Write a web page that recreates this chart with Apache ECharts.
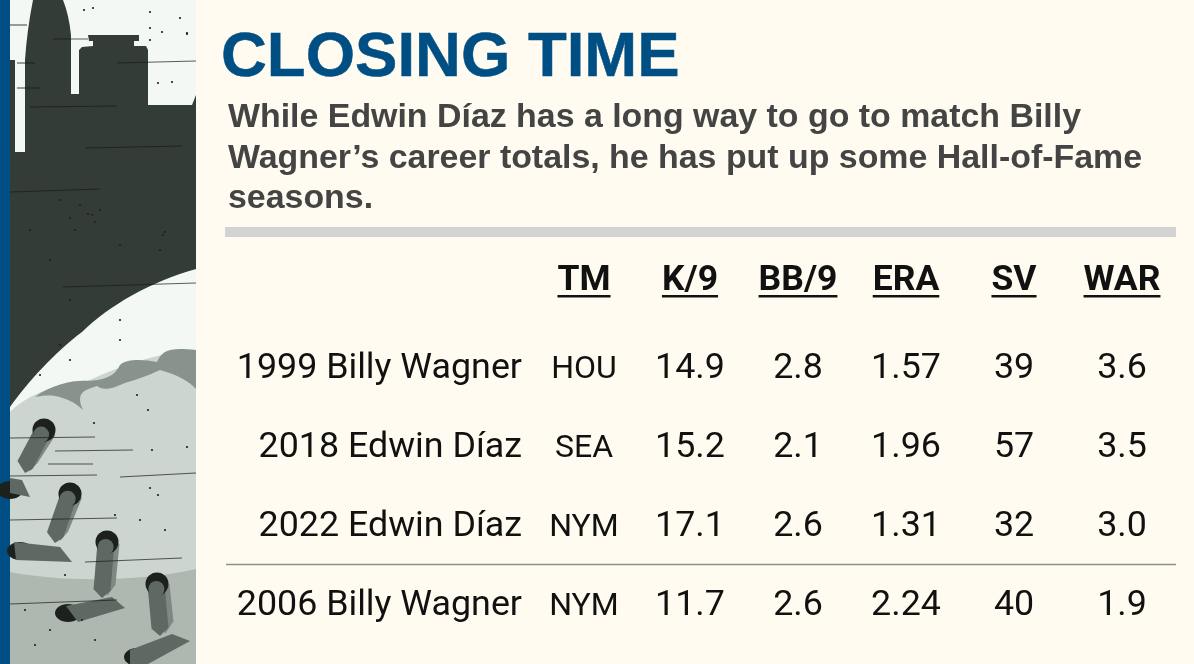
<!DOCTYPE html>
<html>
<head>
<meta charset="utf-8">
<style>
html, body { margin: 0; padding: 0; background: #fffbf0; }
#main { width: 1194px; height: 664px; }
</style>
<script src="https://cdn.jsdelivr.net/npm/echarts@6/dist/echarts.min.js"></script>
</head>
<body>
<div id="main"></div>
<script>
var titleText = 'CLOSING TIME';
var subtitleLines = [
    'While Edwin Díaz has a long way to go to match Billy',
    'Wagner’s career totals, he has put up some Hall-of-Fame',
    'seasons.'
];
var columns = ['TM', 'K/9', 'BB/9', 'ERA', 'SV', 'WAR'];
var players = ['1999 Billy Wagner', '2018 Edwin Díaz', '2022 Edwin Díaz', '2006 Billy Wagner'];
var teams = ['HOU', 'SEA', 'NYM', 'NYM'];
var k9 = ['14.9', '15.2', '17.1', '11.7'];
var bb9 = ['2.8', '2.1', '2.6', '2.6'];
var era = ['1.57', '1.96', '1.31', '2.24'];
var saves = ['39', '57', '32', '40'];
var war = ['3.6', '3.5', '3.0', '1.9'];

var statColumns = [teams, k9, bb9, era, saves, war];
var cells = [];
statColumns.forEach(function (col, c) {
    col.forEach(function (val, r) {
        cells.push([columns[c], players[r], val]);
    });
});

var INK = '#111111';
var PANEL = '#f3f8f4';
var DARK = '#333c36';
var FACE = '#ccd5cf';
var SHADE = '#aeb8b1';
var HAIR = '#89938d';
var LEG = '#5f6963';
var LEG_LIGHT = '#7f8983';

// illustration on the left, all hand traced
var pathCount = 0;
function pathEl(d, fill, z) {
    var name = 'artPath' + (pathCount++);
    echarts.graphic.registerShape(name, echarts.graphic.extendPath(d, {}));
    return { type: name, z: z, style: { fill: fill } };
}
function scratch(x1, y1, x2, y2, color) {
    return { type: 'line', z: 9, shape: { x1: x1, y1: y1, x2: x2, y2: y2 },
        style: { stroke: color || 'rgba(24,28,25,0.7)', lineWidth: 1.2 } };
}
function leg(x1, y1, x2, y2) {
    var dx = x2 - x1, dy = y2 - y1, len = Math.sqrt(dx * dx + dy * dy);
    var nx = -dy / len * 8.5, ny = dx / len * 8.5;
    return [
        { type: 'polygon', z: 6, shape: { points: [[x1 + nx + 5, y1 + ny], [x1 - nx + 5, y1 - ny], [x2 - nx + 5, y2 - ny - 6], [x2 + 5, y2 + 6]] },
            style: { fill: LEG_LIGHT } },
        { type: 'polygon', z: 7, shape: { points: [[x1 + nx, y1 + ny], [x1 - nx, y1 - ny], [x2 - nx, y2 - ny], [x2, y2 + 8], [x2 + nx, y2 + ny]] },
            style: { fill: LEG } },
        { type: 'circle', z: 7, shape: { cx: x1 + 1, cy: y1 - 1, r: 11.5 }, style: { fill: '#1d211e' } },
        { type: 'circle', z: 8, shape: { cx: x1 + dx / len * 4, cy: y1 + dy / len * 4, r: 8 }, style: { fill: LEG } }
    ];
}
function foot(points, capX, capY) {
    return [
        { type: 'polygon', z: 6, shape: { points: points }, style: { fill: LEG } },
        { type: 'ellipse', z: 5, shape: { cx: capX, cy: capY, rx: 13, ry: 9 }, style: { fill: '#1d211e' } }
    ];
}

var art = [
    { type: 'rect', z: 1, shape: { x: 0, y: 0, width: 10, height: 664 }, style: { fill: '#004f84' } },
    { type: 'rect', z: 1, shape: { x: 10, y: 0, width: 186, height: 664 }, style: { fill: PANEL } },
    // skyline and shadow
    pathEl('M33 0 L63 0 Q69 15 71 35 L71 94 L79 94 L79 50 L82 47 L93 46 L93 41 L89 41 L88 35 L139 35 L139 41 L134 41 L134 46 L146 46 L148 50 L148 105 L192 105 L196 95 L196 269 C150 282 110 305 82 332 C55 352 28 382 10 407 L10 60 L15 60 L15 152 L25 152 L25 60 Q27 30 33 0 Z', DARK, 2),
    // head and body
    pathEl('M10 412 C30 392 60 384 90 380 C120 366 160 352 196 350 L196 664 L10 664 Z', FACE, 3),
    pathEl('M10 572 C60 582 140 582 196 569 L196 664 L10 664 Z', SHADE, 4),
    pathEl('M35 397 C52 384 75 380 87 381 C105 380 115 376 120 365 C128 358 145 360 157 362 C162 350 170 347 196 350 L196 389 C190 382 178 375 160 370 C150 375 135 380 125 383 C115 387 105 392 97 386 C85 390 75 392 83 410 C75 402 65 398 55 396 C48 395 40 396 35 397 Z', HAIR, 5)
]
    .concat(leg(43, 431, 25, 465))
    .concat(foot([[10, 478], [22, 480], [30, 497], [10, 493]], 10, 490))
    .concat(leg(69, 495, 55, 535))
    .concat(foot([[14, 542], [60, 547], [72, 562], [16, 560]], 20, 551))
    .concat(leg(106, 543, 102, 590))
    .concat(foot([[66, 606], [112, 597], [125, 608], [78, 622]], 68, 613))
    .concat(leg(156, 585, 160, 628))
    .concat(foot([[130, 650], [172, 634], [190, 641], [148, 664], [130, 664]], 137, 657))
    .concat([
        scratch(10, 25, 27, 25), scratch(53, 39, 88, 39), scratch(17, 63, 35, 63),
        scratch(117, 63, 196, 61), scratch(17, 88, 40, 88), scratch(30, 107, 117, 106),
        scratch(85, 148, 182, 146), scratch(10, 192, 100, 189), scratch(63, 287, 196, 283),
        scratch(10, 438, 95, 437), scratch(55, 451, 133, 450), scratch(48, 464, 93, 464),
        scratch(10, 476, 97, 475), scratch(120, 477, 196, 473), scratch(10, 520, 117, 518),
        scratch(85, 562, 182, 558), scratch(10, 604, 117, 600)
    ]);

var specks = [
    [84, 10], [93, 8], [150, 12], [187, 34], [150, 40], [187, 33], [158, 83], [172, 82],
    [150, 28], [162, 32], [180, 18], [120, 245], [60, 200], [92, 215], [163, 235], [30, 230],
    [70, 300], [120, 320], [50, 260], [120, 340], [94, 423], [60, 345], [70, 360], [40, 375],
    [137, 395], [152, 450], [187, 447], [150, 488], [158, 495], [148, 410], [115, 515],
    [65, 575], [25, 610], [82, 620], [95, 640], [35, 645], [165, 530], [140, 520], [50, 630],
    [88, 214], [75, 230], [95, 222], [80, 205], [100, 210], [70, 218], [165, 232], [160, 250]
];
specks.forEach(function (s) {
    art.push({ type: 'circle', z: 9, shape: { cx: s[0], cy: s[1], r: 1.1 }, style: { fill: '#1d211e' } });
});

var headline = [
    { type: 'text', z: 10, x: 221, y: 58, style: { text: titleText, fill: '#004f84', stroke: '#004f84', lineWidth: 0.5, verticalAlign: 'middle',
        font: 'bold 63.5px "Liberation Sans", Arial, sans-serif' } }
];
subtitleLines.forEach(function (line, i) {
    headline.push({ type: 'text', z: 10, x: 228, y: 118 + i * 40.5, style: { text: line, fill: '#444444', verticalAlign: 'middle',
        font: 'bold 33.9px "Liberation Sans", Arial, sans-serif' } });
});
headline.push({ type: 'rect', z: 10, shape: { x: 225, y: 227, width: 951, height: 10 }, style: { fill: '#d3d3d3' } });
headline.push({ type: 'line', z: 10, shape: { x1: 226, y1: 564.5, x2: 1176, y2: 564.5 }, style: { stroke: '#8f8f8c', lineWidth: 1.5 } });

var measure = document.createElement('canvas').getContext('2d');
var HEAD_FONT = 'bold 35.5px Roboto, sans-serif';
var TM_OFFSET = 2;

function renderHeader(params, api) {
    var name = columns[params.dataIndex];
    var pt = api.coord([params.dataIndex, 0]);
    var x = pt[0] + (name === 'TM' ? TM_OFFSET : 0);
    var y = pt[1] - 88;
    measure.font = HEAD_FONT;
    var w = measure.measureText(name).width;
    return {
        type: 'group',
        children: [
            { type: 'text', x: x, y: y, style: { text: name, fill: INK, align: 'center', verticalAlign: 'middle', font: HEAD_FONT } },
            { type: 'rect', shape: { x: x - w / 2, y: y + 13.5, width: w, height: 2.5 }, style: { fill: INK } }
        ]
    };
}

function renderCell(params, api) {
    var cell = cells[params.dataIndex];
    var pt = api.coord([columns.indexOf(cell[0]), players.indexOf(cell[1])]);
    var isTeam = cell[0] === 'TM';
    return {
        type: 'text',
        x: pt[0] + (isTeam ? TM_OFFSET : 0),
        y: pt[1],
        style: {
            text: cell[2],
            fill: INK,
            align: 'center',
            verticalAlign: 'middle',
            font: (isTeam ? '32px' : '35.8px') + ' Roboto, sans-serif'
        }
    };
}

var chart = echarts.init(document.getElementById('main'));
chart.setOption({
    animation: false,
    backgroundColor: '#fffbf0',
    grid: { left: 528, width: 648, top: 330, height: 316 },
    xAxis: {
        type: 'category',
        data: columns,
        axisLine: { show: false },
        axisTick: { show: false },
        axisLabel: { show: false },
        splitLine: { show: false }
    },
    yAxis: {
        type: 'category',
        inverse: true,
        data: players,
        axisLine: { show: false },
        axisTick: { show: false },
        splitLine: { show: false },
        axisLabel: { margin: 6, color: INK, fontFamily: 'Roboto', fontSize: 35.8 }
    },
    graphic: { elements: art.concat(headline) },
    series: [
        {
            type: 'custom',
            clip: false,
            renderItem: renderHeader,
            encode: { x: 0 },
            data: columns.map(function (c, i) { return [i]; })
        },
        {
            type: 'custom',
            clip: false,
            renderItem: renderCell,
            encode: { x: 0, y: 1 },
            data: cells
        }
    ]
});
</script>
</body>
</html>
